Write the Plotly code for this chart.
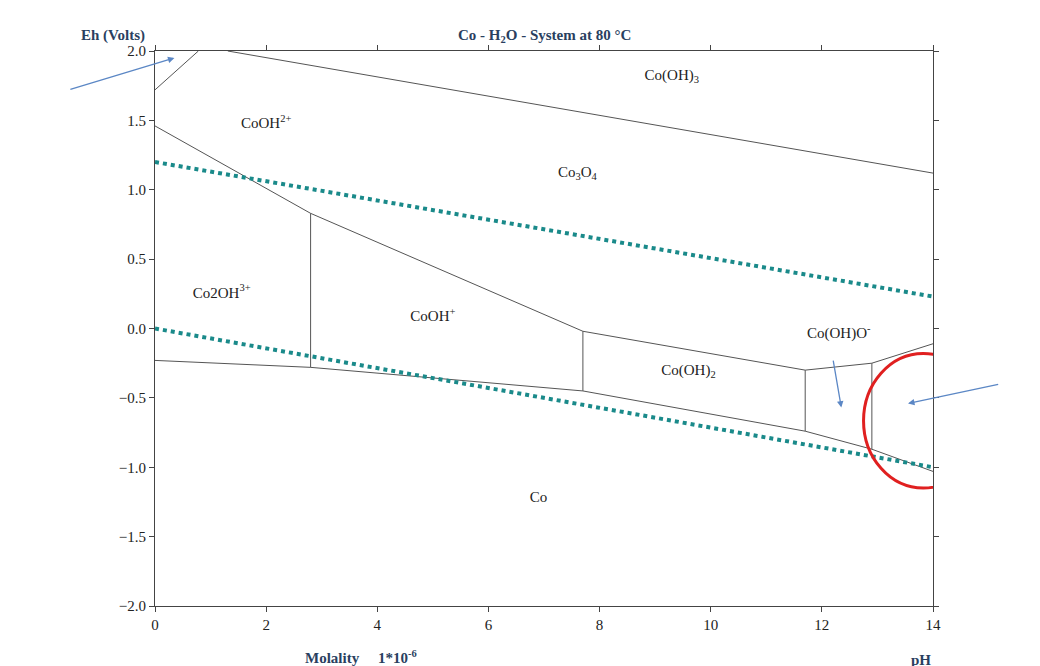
import plotly.graph_objects as go

# boundary lines (pH, Eh)
co3_x = [0.0, 0.78]; co3_y = [1.72, 2.0]
top_x = [1.31, 14.0]; top_y = [2.0, 1.12]
mid_x = [0.0, 2.8, 7.7, 11.7, 12.9, 14.0]; mid_y = [1.46, 0.83, -0.02, -0.30, -0.25, -0.11]
low_x = [0.0, 2.8, 7.7, 11.7, 12.9, 14.0]; low_y = [-0.23, -0.28, -0.45, -0.74, -0.87, -1.03]
vert_x = [2.8, 7.7, 11.7, 12.9]
vert_top = [0.83, -0.02, -0.30, -0.25]
vert_bot = [-0.28, -0.45, -0.74, -0.87]
w_up_x = [0.0, 14.0]; w_up_y = [1.2, 0.23]
w_lo_x = [0.0, 14.0]; w_lo_y = [0.0, -1.0]

labels = ["Co(OH)<sub>3</sub>", "CoOH<sup>2+</sup>", "Co<sub>3</sub>O<sub>4</sub>", "Co2OH<sup>3+</sup>",
          "CoOH<sup>+</sup>", "Co(OH)<sub>2</sub>", "Co"]
lab_x = [9.3, 2.0, 7.6, 1.2, 5.0, 9.6, 6.9]
lab_y = [1.82, 1.47, 1.12, 0.25, 0.08, -0.31, -1.22]

F = "Liberation Serif"
fig = go.Figure()
line = dict(color="#555555", width=1)
for xs, ys in [(co3_x, co3_y), (top_x, top_y), (mid_x, mid_y), (low_x, low_y)]:
    fig.add_trace(go.Scatter(x=xs, y=ys, mode="lines", line=line, hoverinfo="skip"))
for vx, vt, vb in zip(vert_x, vert_top, vert_bot):
    fig.add_trace(go.Scatter(x=[vx, vx], y=[vt, vb], mode="lines", line=line, hoverinfo="skip"))
for xs, ys in [(w_up_x, w_up_y), (w_lo_x, w_lo_y)]:
    fig.add_trace(go.Scatter(x=xs, y=ys, mode="lines", line=dict(color="#1a8a8a", width=4, dash="dot"), hoverinfo="skip"))
fig.add_trace(go.Scatter(x=lab_x, y=lab_y, mode="text", text=labels,
                         textfont=dict(family=F, size=15, color="#222"), hoverinfo="skip"))

fig.add_shape(type="circle", xref="x", yref="y", x0=12.75, x1=14.9, y0=-1.15, y1=-0.18,
              line=dict(color="#e02020", width=3))
ar = dict(showarrow=True, arrowhead=2, arrowcolor="#5b87c5", arrowwidth=1.3, axref="x", ayref="y", xref="x", yref="y")
fig.add_annotation(x=0.35, y=1.95, ax=-1.55, ay=1.72, text="", **ar)
fig.add_annotation(x=12.35, y=-0.57, ax=12.2, ay=-0.22, text="", **ar)
fig.add_annotation(x=13.55, y=-0.54, ax=15.2, ay=-0.4, text="", **ar)
txt = dict(showarrow=False, font=dict(family=F, size=15, color="#222"), xref="x", yref="y")
fig.add_annotation(x=-1.55, y=1.72, text="Co<sup>3+</sup>", xanchor="right", **txt)
fig.add_annotation(x=12.3, y=-0.03, text="Co(OH)O<sup>-</sup>", **txt)
fig.add_annotation(x=15.3, y=-0.24, text="CoO<sub>2</sub><sup>2-</sup>", xanchor="left", **txt)
fig.add_annotation(xref="paper", yref="paper", x=-0.01, y=1.0, yshift=26, text="<b>Eh (Volts)</b>",
                   showarrow=False, xanchor="right", font=dict(family=F, size=15))
fig.add_annotation(xref="paper", yref="paper", x=0.5, y=1.0, yshift=26, text="<b>Co - H<sub>2</sub>O - System at 80 °C</b>",
                   showarrow=False, font=dict(family=F, size=15))
fig.add_annotation(xref="paper", yref="paper", x=0.19, y=0, yshift=-62, text="<b>Molality     1*10<sup>-6</sup></b>",
                   showarrow=False, font=dict(family=F, size=15))
fig.add_annotation(xref="paper", yref="paper", x=1.0, y=0, yshift=-64, text="<b>pH</b>",
                   showarrow=False, font=dict(family=F, size=15))

ax = dict(showline=True, linecolor="#444", linewidth=1, mirror="ticks", ticks="outside", ticklen=5,
          tickcolor="#444", showgrid=False, zeroline=False,
          tickfont=dict(family=F, size=15, color="#222"))
fig.update_xaxes(range=[0, 14], dtick=2, tickformat="d", **ax)
fig.update_yaxes(range=[-2, 2], dtick=0.5, tickformat=".1f", **ax)
fig.update_layout(width=1040, height=666, showlegend=False, plot_bgcolor="white", paper_bgcolor="white",
                  margin=dict(l=147, r=115, t=43, b=68))
fig.write_html("out.html")
